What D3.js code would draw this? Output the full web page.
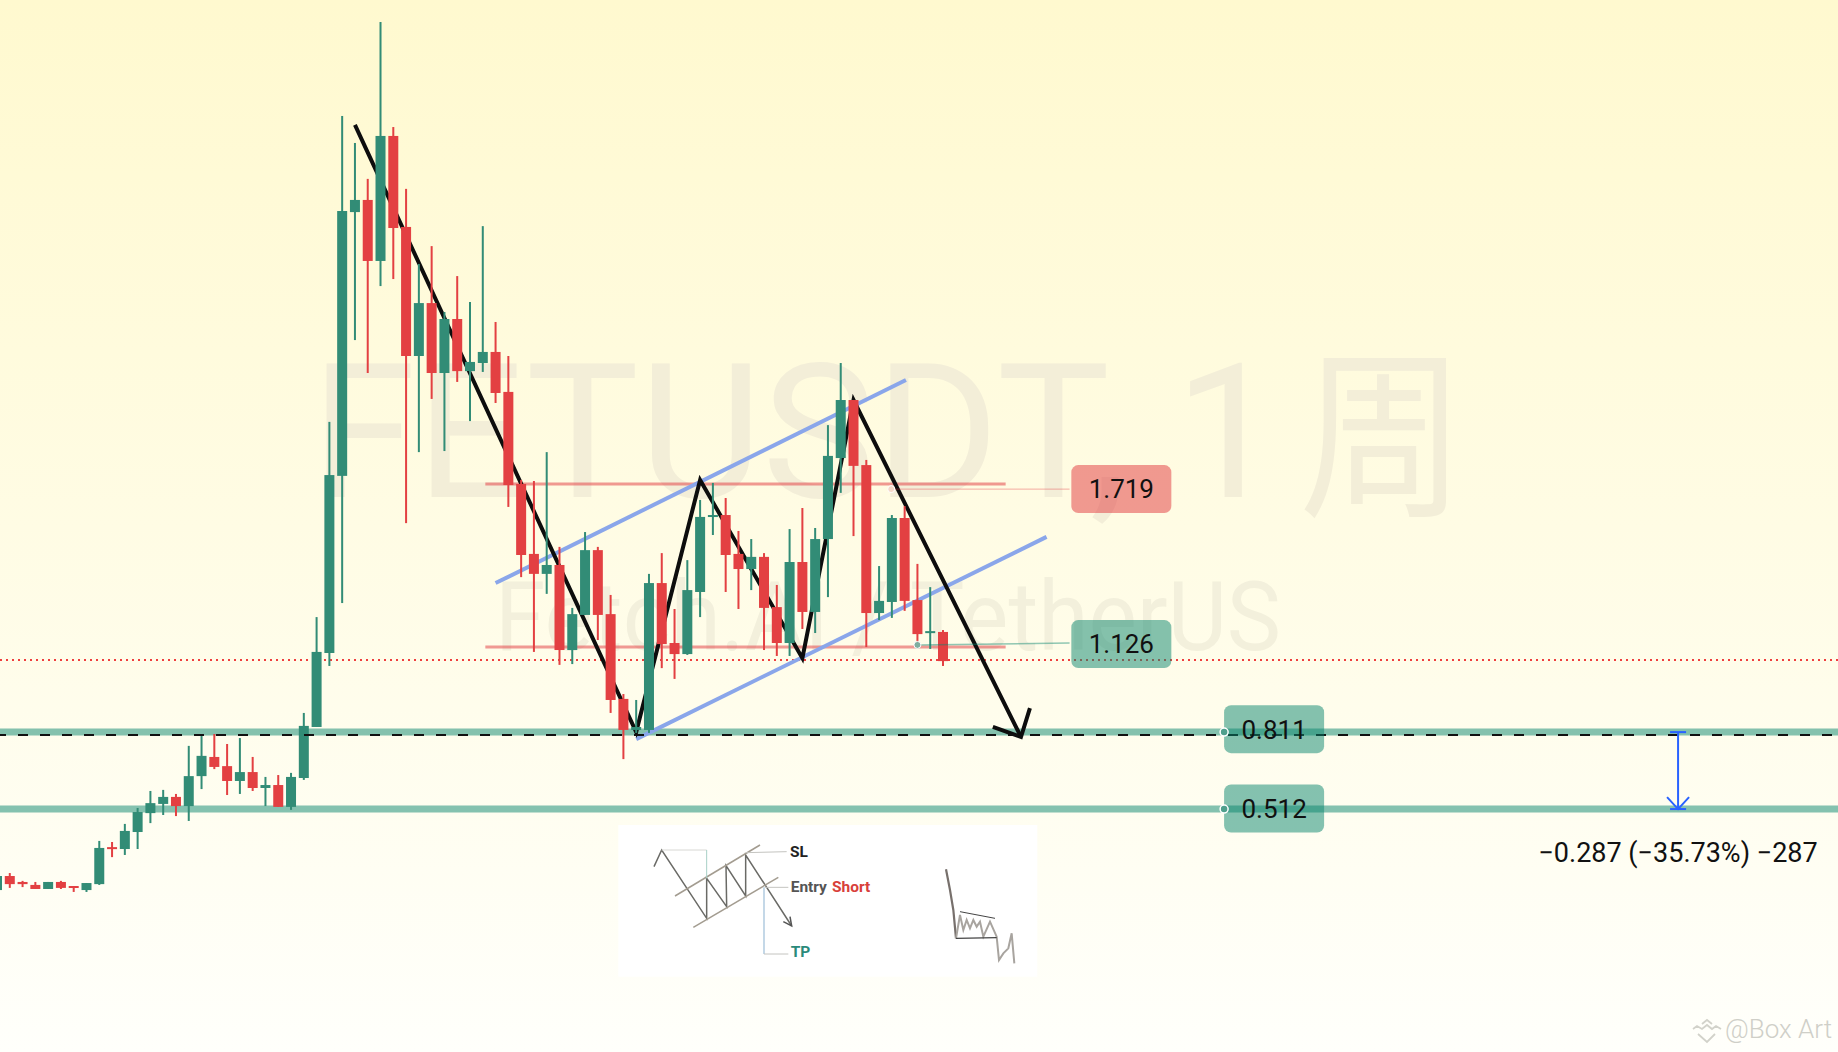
<!DOCTYPE html>
<html>
<head>
<meta charset="utf-8">
<style>
  html, body { margin: 0; padding: 0; background: #fffdea; overflow: hidden; }
  svg { display: block; }
  text { font-family: Roboto, "Noto Sans CJK SC", sans-serif; }
</style>
<script src="https://cdn.jsdelivr.net/npm/d3@7"></script>
</head>
<body>
<div id="chart"></div>
<script>
const width = 1838;
const height = 1052;

// weekly FET/USDT candles
const opens = [.222,.274,.252,.241,.226,.252,.237,.222,.244,.381,.374,.437,.507,.541,.567,.533,.644,.715,.681,.626,.659,.600,.611,.530,.637,
  .826,1.100,1.756,2.733,2.778,2.552,3.015,2.678,2.200,2.396,2.137,2.337,2.144,2.174,2.215,2.067,1.726,1.467,1.393,1.426,1.111,1.241,1.481,1.244,.930,
  .815,.815,1.359,1.137,1.096,1.326,1.604,1.611,1.467,1.411,1.456,1.270,1.137,1.437,1.252,1.522,1.822,2.037,1.796,1.248,1.289,1.600,1.296,1.174,1.178];
const highs = [.274,.285,.256,.252,.252,.256,.237,.248,.404,.400,.467,.526,.589,.593,.578,.756,.796,.800,.763,.785,.715,.641,.648,.656,.878,
  1.233,1.956,3.089,2.989,2.856,3.437,3.048,2.819,2.541,2.607,2.363,2.496,2.400,2.681,2.326,2.200,1.741,1.737,1.844,1.493,1.267,1.548,1.493,1.315,.948,
  .926,1.393,1.470,1.263,1.444,1.667,1.730,1.674,1.552,1.522,1.470,1.352,1.559,1.637,1.563,1.944,2.174,2.037,1.815,1.422,1.611,1.644,1.430,1.344,1.185];
const lows = [.222,.230,.233,.226,.226,.226,.215,.215,.241,.344,.352,.374,.470,.500,.496,.478,.596,.670,.574,.578,.589,.533,.530,.519,.630,
  .826,1.052,1.285,2.259,2.137,2.459,2.485,1.581,1.844,2.041,1.848,2.104,1.959,2.141,2.026,1.641,1.381,1.104,1.319,1.056,1.059,1.241,1.148,.878,.707,
  .804,.804,1.044,1.004,1.093,1.233,1.537,1.326,1.263,1.333,1.111,1.089,1.089,1.189,1.174,1.307,1.693,1.533,1.122,1.222,1.230,1.256,1.130,1.115,1.052];
const closes = [.274,.244,.244,.226,.252,.230,.230,.248,.378,.374,.441,.511,.544,.567,.533,.644,.719,.678,.626,.659,.600,.611,.530,.641,.830,
  1.104,1.759,2.737,2.778,2.552,3.015,2.674,2.200,2.396,2.137,2.337,2.144,2.178,2.215,2.063,1.722,1.463,1.393,1.426,1.111,1.244,1.481,1.241,.926,.815,
  .826,1.359,1.133,1.096,1.333,1.604,1.611,1.463,1.411,1.456,1.267,1.137,1.437,1.252,1.522,1.830,2.037,1.793,1.248,1.293,1.600,1.293,1.170,1.181,1.070];

// drawings, as [candle index, price]
const zigzag = [[28,3.056],[50,.807],[55,1.741],[63,1.081],[67,2.037],[80.1,.789]];
const arrowHead = [[77.9,.826],[80.1,.789],[80.8,.896]];
const channelUpper = [[39,1.359],[71.1,2.111]];
const channelLower = [[50,.781],[82.1,1.530]];
const zoneLevels = [1.726, 1.122];
const zoneStart = 38.2;
const zoneEnd = 78.9;
const greenLevels = [.807, .522];
const lastPrice = .796;
const dottedPrice = 1.074;

const priceLabels = ['1.719', '1.126', '0.811', '0.512'];
const labelPrices = [1.707, 1.133, .818, .524];
const labelIndex = [87.95, 87.95, 99.9, 99.9];
const labelColors = ['#e1353c', '#09856e', '#09856e', '#09856e'];
const leaders = [[[69.95,1.707],[83.9,1.707]], [[72,1.130],[83.9,1.137]]];
const measureIndex = 131.5;
const measureFrom = .807;
const measureTo = .522;
const measureText = '\u22120.287 (\u221235.73%) \u2212287';

// little picture pasted under the chart, points as seen in the pasted image
const sketchLines = [
  { pts: [[162,200],[185,150],[320,355],[320,235],[380,320],[378,197],[437,288],[437,165],[575,378]], color: '#6a6a66', w: 1.5 },
  { pts: [[550,365],[575,378],[570,350]], color: '#555', w: 1.5 },
  { pts: [[225,288],[480,135]], color: '#a39c90', w: 1.5 },
  { pts: [[280,382],[535,232]], color: '#a39c90', w: 1.5 },
  { pts: [[185,150],[320,150]], color: '#d8d8d4', w: 1 },
  { pts: [[320,150],[320,235]], color: '#a8d0c6', w: 1 },
  { pts: [[437,158],[560,155]], color: '#c4c4c0', w: 1 },
  { pts: [[495,262],[565,262]], color: '#c4c4c0', w: 1 },
  { pts: [[492,262],[492,462]], color: '#b6cfe2', w: 1.6 },
  { pts: [[492,462],[565,462]], color: '#c4c4c0', w: 1 },
  { pts: [[1038,208],[1050,270],[1060,330],[1068,415]], color: '#77706c', w: 2.2 },
  { pts: [[1068,415],[1080,345],[1090,390],[1100,360],[1110,385],[1120,360],[1130,380],[1140,365],[1150,410],[1170,365],[1190,410],[1197,480],[1210,460],[1225,445],[1235,400],[1243,490]], color: '#a8a49f', w: 2 },
  { pts: [[1080,335],[1185,355]], color: '#444', w: 1 },
  { pts: [[1068,415],[1190,413]], color: '#444', w: 1.2 }
];
const sketchBox = [55, 75, 1312, 530];

const svg = d3.select('#chart').append('svg')
  .attr('width', width)
  .attr('height', height);

const x = d3.scaleLinear().domain([0, 74]).range([-3, 943]);
const y = d3.scaleLinear().domain([0, 3.5]).range([950, 5]);
const sx = d3.scaleLinear().domain([0, 1380]).range([600, 1060]);
const sy = d3.scaleLinear().domain([0, 600]).range([800, 1000]);
const line = d3.line().x(d => x(d[0])).y(d => y(d[1]));
const sketchLine = d3.line().x(d => sx(d[0])).y(d => sy(d[1]));

// background
const grad = svg.append('defs').append('linearGradient')
  .attr('id', 'bg').attr('x1', 0).attr('y1', 0).attr('x2', 0).attr('y2', 1);
grad.append('stop').attr('offset', '0%').attr('stop-color', '#fff9cf');
grad.append('stop').attr('offset', '50%').attr('stop-color', '#fffce4');
grad.append('stop').attr('offset', '100%').attr('stop-color', '#fffffb');
svg.append('rect').attr('width', width).attr('height', height).attr('fill', 'url(#bg)');

// symbol watermark
svg.append('text')
  .attr('x', 311).attr('y', 497)
  .attr('textLength', 970).attr('lengthAdjust', 'spacingAndGlyphs')
  .attr('font-size', 188)
  .attr('fill', '#f3eed8')
  .text('FETUSDT, 1');
svg.append('text')
  .attr('x', 1299).attr('y', 502)
  .attr('textLength', 167).attr('lengthAdjust', 'spacingAndGlyphs')
  .attr('font-size', 182)
  .attr('fill', '#f3eed8')
  .text('周');
svg.append('text')
  .attr('x', 495).attr('y', 650)
  .attr('textLength', 786).attr('lengthAdjust', 'spacingAndGlyphs')
  .attr('font-size', 96)
  .attr('fill', '#f3f0dc')
  .text('Fetch.AI / TetherUS');

// levels
svg.append('g').selectAll('line')
  .data(zoneLevels).enter().append('line')
  .attr('x1', x(zoneStart)).attr('x2', x(zoneEnd))
  .attr('y1', d => y(d)).attr('y2', d => y(d))
  .attr('stroke', '#e1353c').attr('stroke-opacity', .5).attr('stroke-width', 3);
svg.append('g').selectAll('line')
  .data(greenLevels).enter().append('line')
  .attr('x1', 0).attr('x2', width)
  .attr('y1', d => y(d)).attr('y2', d => y(d))
  .attr('stroke', '#09856e').attr('stroke-opacity', .5).attr('stroke-width', 7);

// dotted last price line
svg.append('line')
  .attr('x1', 0).attr('x2', width)
  .attr('y1', y(dottedPrice)).attr('y2', y(dottedPrice))
  .attr('stroke', '#ef3e3e').attr('stroke-width', 2).attr('stroke-dasharray', '2 4');

// channel and path drawings go under the candles
[channelUpper, channelLower].forEach(d => {
  svg.append('path').attr('d', line(d))
    .attr('fill', 'none').attr('stroke', '#8aa6ea').attr('stroke-width', 4);
});
[zigzag, arrowHead].forEach(d => {
  svg.append('path').attr('d', line(d))
    .attr('fill', 'none').attr('stroke', '#0d0d0d').attr('stroke-width', 4);
});

// candles
const candles = svg.append('g').selectAll('g')
  .data(opens.map((o, i) => ({ i, o, h: highs[i], l: lows[i], c: closes[i] })))
  .enter().append('g')
  .attr('fill', d => d.c >= d.o ? '#328c76' : '#e34042');
candles.append('rect')
  .attr('x', d => x(d.i) - 1)
  .attr('width', 2)
  .attr('y', d => y(d.h))
  .attr('height', d => y(d.l) - y(d.h));
candles.append('rect')
  .attr('x', d => x(d.i) - 5)
  .attr('width', 10)
  .attr('y', d => y(Math.max(d.o, d.c)))
  .attr('height', d => Math.max(2, Math.abs(y(d.o) - y(d.c))));

// dashed line of the target
svg.append('line')
  .attr('x1', 0).attr('x2', width)
  .attr('y1', y(lastPrice)).attr('y2', y(lastPrice))
  .attr('stroke', '#111').attr('stroke-width', 2)
  .attr('stroke-dasharray', '10 12').attr('stroke-dashoffset', 4);

// leaders from the levels to their labels
svg.append('path').attr('d', line(leaders[0]))
  .attr('fill', 'none').attr('stroke', '#e1353c').attr('stroke-opacity', .4);
svg.append('path').attr('d', line(leaders[1]))
  .attr('fill', 'none').attr('stroke', '#09856e').attr('stroke-opacity', .45).attr('stroke-width', 1.5);
svg.append('g').selectAll('circle')
  .data([leaders[0][0], leaders[1][0]]).enter().append('circle')
  .attr('cx', d => x(d[0])).attr('cy', d => y(d[1])).attr('r', 3.5)
  .attr('fill', (d, i) => i ? '#7fae9f' : '#f5d9c8')
  .attr('stroke', '#fff').attr('stroke-width', 1);

// price labels
const labels = svg.append('g').selectAll('g')
  .data(priceLabels).enter().append('g')
  .attr('transform', (d, i) => `translate(${x(labelIndex[i])},${y(labelPrices[i])})`);
labels.append('rect')
  .attr('x', -50).attr('y', -24)
  .attr('width', 100).attr('height', 48)
  .attr('rx', 7)
  .attr('fill', (d, i) => labelColors[i])
  .attr('fill-opacity', .5);
labels.append('text')
  .attr('text-anchor', 'middle')
  .attr('dy', '.36em')
  .attr('font-size', 26)
  .attr('fill', '#111')
  .text(d => d);
svg.append('g').selectAll('circle')
  .data(greenLevels).enter().append('circle')
  .attr('cx', x(99.9) - 50).attr('cy', d => y(d)).attr('r', 4)
  .attr('fill', '#4f9f8c').attr('stroke', '#fff').attr('stroke-width', 1.5);

// measure tool
const mx = x(measureIndex);
const measure = svg.append('g').attr('stroke', '#2962ff').attr('stroke-width', 2).attr('fill', 'none');
measure.append('line').attr('x1', mx).attr('x2', mx).attr('y1', y(measureFrom)).attr('y2', y(measureTo));
measure.append('line').attr('x1', mx - 8).attr('x2', mx + 8).attr('y1', y(measureFrom)).attr('y2', y(measureFrom));
measure.append('line').attr('x1', mx - 8).attr('x2', mx + 8).attr('y1', y(measureTo)).attr('y2', y(measureTo));
measure.append('path').attr('d', `M${mx - 11},${y(measureTo) - 12}L${mx},${y(measureTo)}L${mx + 11},${y(measureTo) - 12}`);
svg.append('text')
  .attr('x', mx).attr('y', y(measureTo) + 53)
  .attr('text-anchor', 'middle')
  .attr('font-size', 27)
  .attr('fill', '#111')
  .text(measureText);

// pasted pattern picture
svg.append('rect')
  .attr('x', sx(sketchBox[0])).attr('y', sy(sketchBox[1]))
  .attr('width', sx(sketchBox[2]) - sx(sketchBox[0]))
  .attr('height', sy(sketchBox[3]) - sy(sketchBox[1]))
  .attr('fill', '#fff');
svg.append('g').selectAll('path')
  .data(sketchLines).enter().append('path')
  .attr('d', d => sketchLine(d.pts))
  .attr('fill', 'none')
  .attr('stroke', d => d.color)
  .attr('stroke-width', d => d.w);
const sketchText = [
  { t: 'SL', px: 570, py: 170, c: '#222' },
  { t: 'Entry', px: 572, py: 276, c: '#555' },
  { t: 'Short', px: 696, py: 276, c: '#d8403a' },
  { t: 'TP', px: 572, py: 472, c: '#2a8a7a' }
];
svg.append('g').selectAll('text')
  .data(sketchText).enter().append('text')
  .attr('x', d => sx(d.px)).attr('y', d => sy(d.py))
  .attr('font-size', 15.5)
  .attr('font-weight', 700)
  .attr('fill', d => d.c)
  .text(d => d.t);

// corner mark
const mark = svg.append('g').attr('fill', 'none').attr('stroke', '#d2d2ca').attr('stroke-width', 1.8);
mark.append('path').attr('d', d3.line()([[1702, 1024], [1707, 1020], [1712, 1024]]));
mark.append('path').attr('d', d3.line()([[1693, 1029], [1697, 1026], [1702, 1029], [1707, 1025], [1712, 1029], [1716, 1026], [1721, 1029]]));
mark.append('path').attr('d', d3.line()([[1698, 1034], [1707, 1042], [1715, 1034]]));
svg.append('text')
  .attr('x', 1725).attr('y', 1038)
  .attr('font-size', 26)
  .attr('font-weight', 300)
  .attr('fill', '#cfcfc8')
  .text('@Box Art');
</script>
</body>
</html>
